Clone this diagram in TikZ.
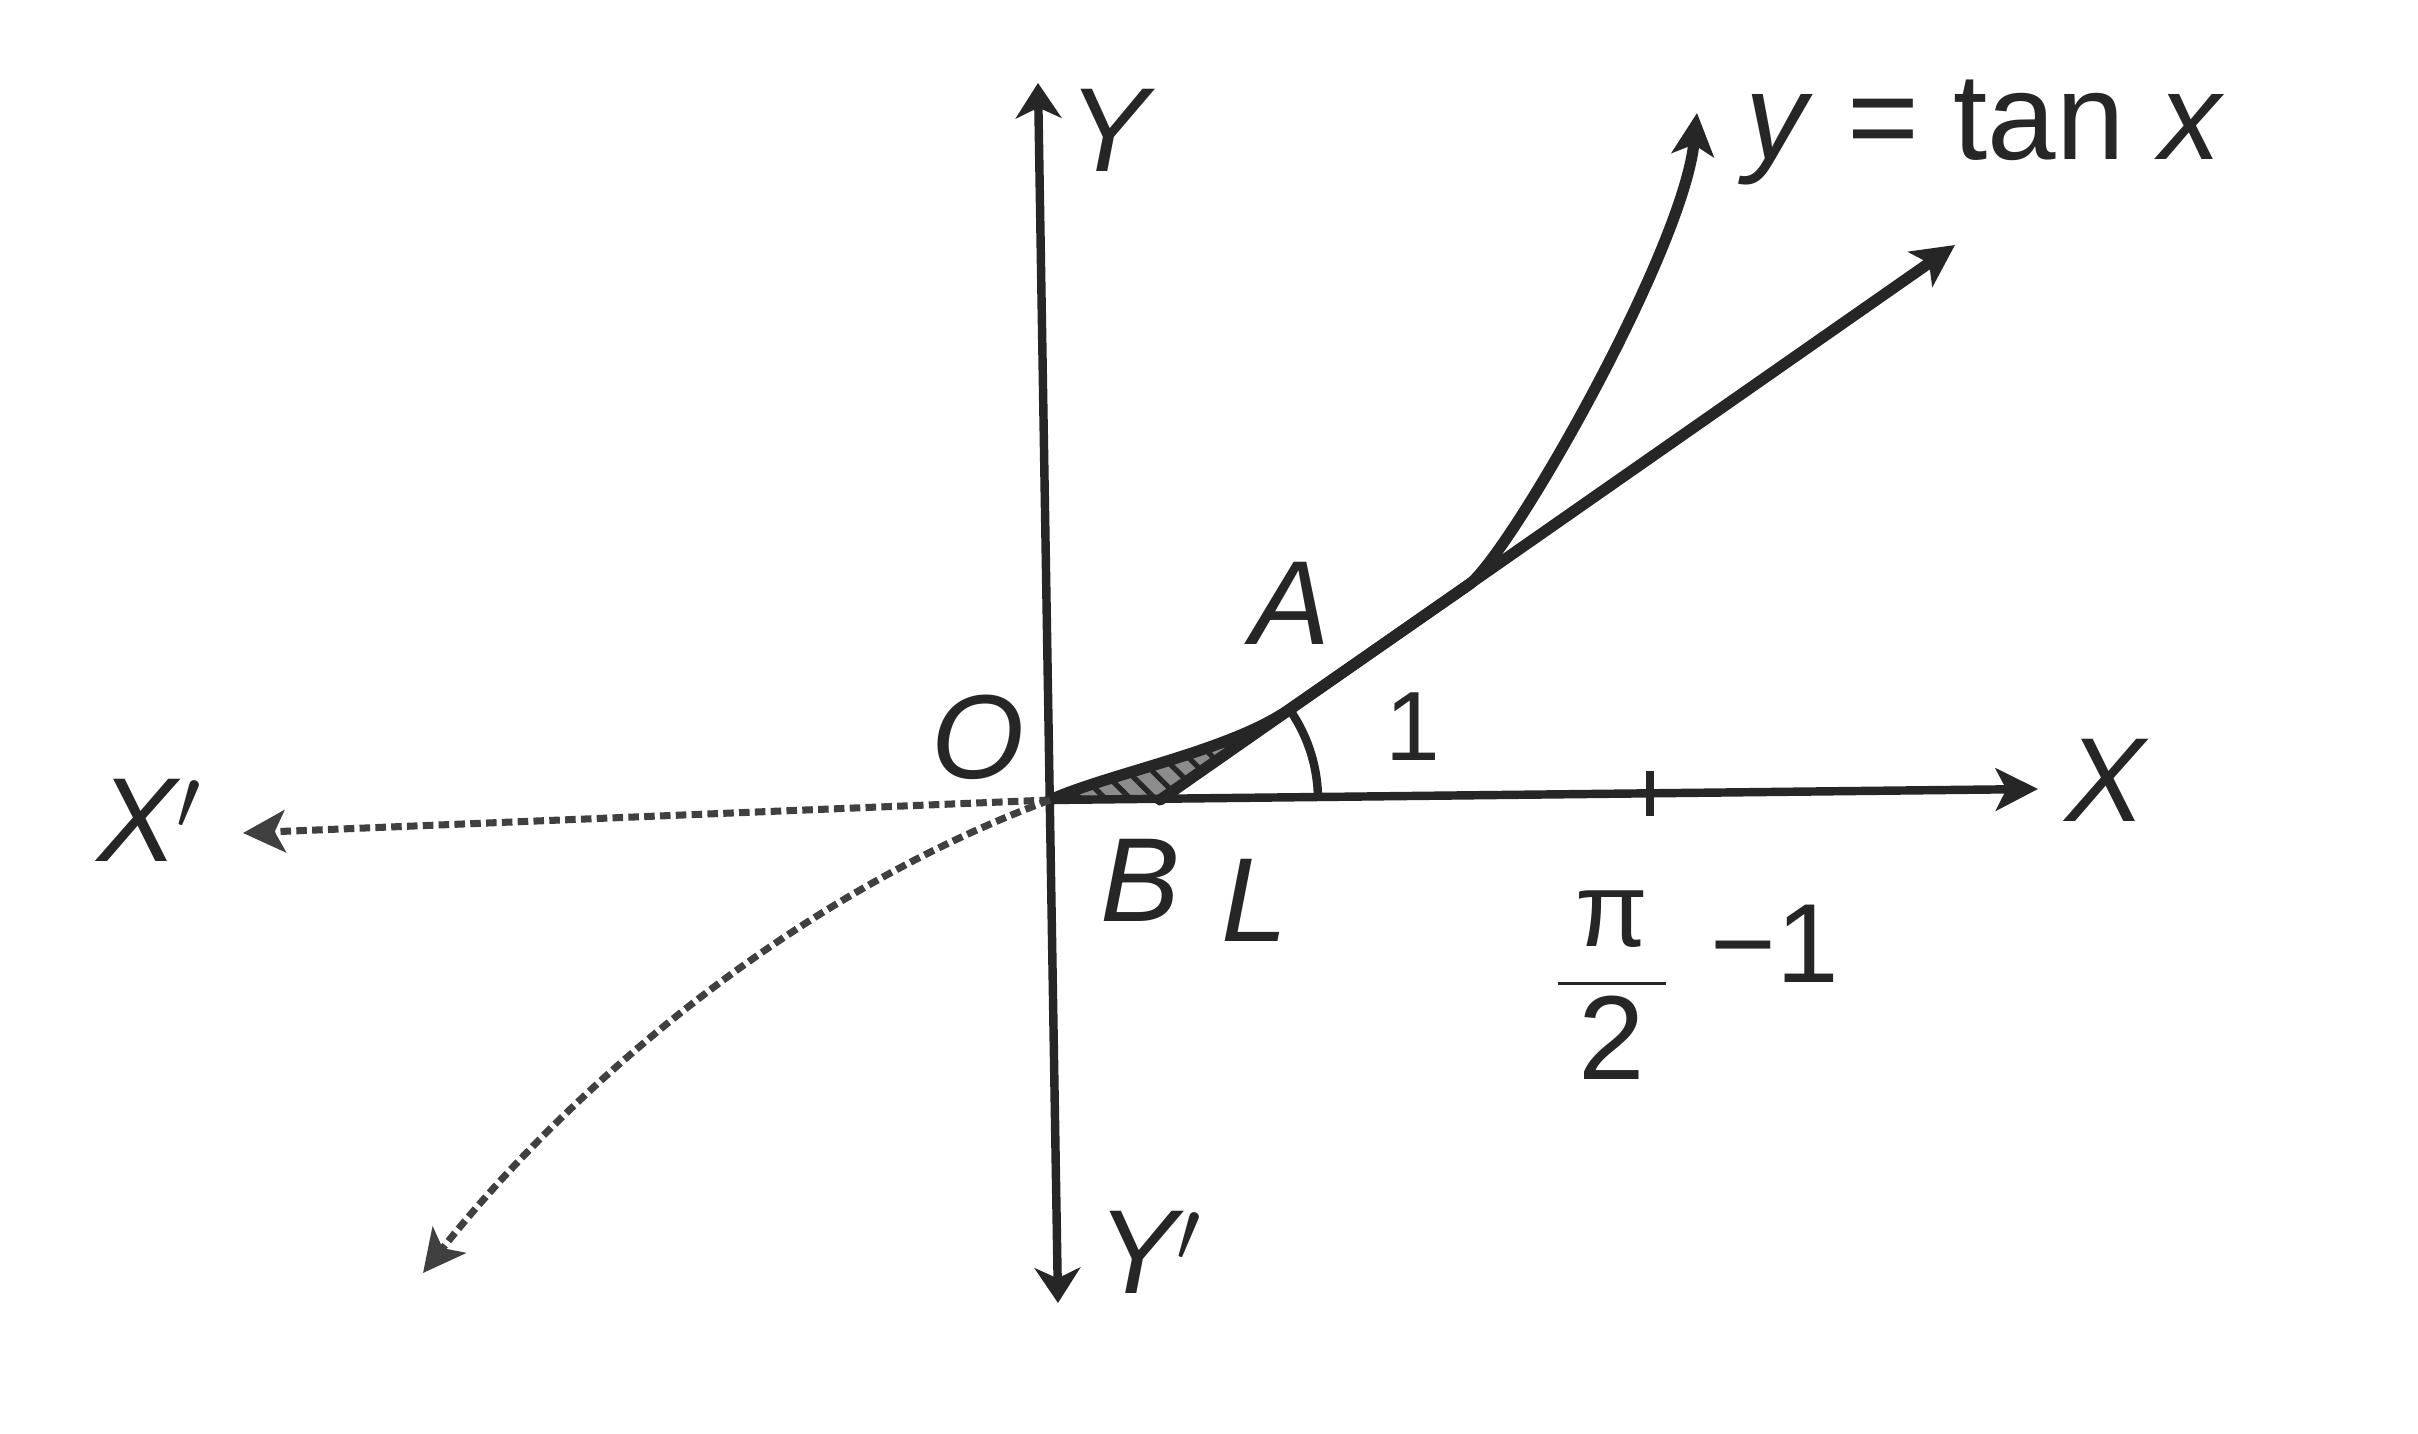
\documentclass[tikz,border=0pt]{standalone}
\usepackage{fontspec}
\setmainfont{Liberation Sans}
\usepackage{amsmath}
\usetikzlibrary{arrows.meta,patterns.meta}
\begin{document}
\begin{tikzpicture}[x=0.01cm,y=-0.01cm,
  ink/.style={draw=black!85, line width=3.2pt, line cap=round},
  axisline/.style={draw=black!85, line width=2.4pt},
  faint/.style={draw=black!75, line width=2pt, dash pattern=on 3pt off 1.5pt},
  tip/.style={-{Stealth[length=12pt,width=12pt,inset=3pt]}},
  bothtips/.style={{Stealth[length=10pt,width=13pt,inset=3pt]}-{Stealth[length=10pt,width=13pt,inset=3pt]}},
  lab/.style={font=\fontsize{34}{40}\selectfont\itshape, text=black!85, inner sep=0pt},
  uplab/.style={font=\fontsize{34}{40}\selectfont, text=black!85, inner sep=0pt},
]
\useasboundingbox[fill=white] (0,0) rectangle (2418,1434);
% key points
\coordinate (O) at (1050,800);
\coordinate (Ytop) at (1038,83);
\coordinate (Ybot) at (1058,1303);
\coordinate (Xright) at (2038,789);
\coordinate (Xleft) at (243,833);
\coordinate (B) at (1160,800);
\coordinate (P) at (1290,709);
\coordinate (A) at (1470,584);
\coordinate (Ttip) at (1955,245);
\coordinate (Ctip) at (1697,113);
\coordinate (Lend) at (423,1273);
\coordinate (TickT) at (1650,771);
\coordinate (TickB) at (1650,816);
% shaded region
\fill[black!45] (O) .. controls (1110,773) and (1230,751) .. (P) -- (B) -- cycle;
\fill[pattern={Lines[angle=-45,distance=5pt,line width=1.5pt]}, pattern color=black!85]
  (O) .. controls (1110,773) and (1230,751) .. (P) -- (B) -- cycle;
% axes
\draw[axisline, tip] (O) -- (Xright);
\draw[faint, tip] (O) -- (Xleft);
\draw[axisline, bothtips] (Ybot) -- (Ytop);
\draw[axisline] (TickT) -- (TickB);
% tangent line
\draw[ink, tip] (B) -- (Ttip);
% curve y = tan x
\draw[ink, tip] (O) .. controls (1110,773) and (1230,751) .. (P) -- (A)
  .. controls (1515,546) and (1683,250) .. (Ctip);
\draw[faint, tip] (O) .. controls (780,900) and (560,1100) .. (Lend);
% angle arc
\draw[axisline] ([shift={(158,0)}]B) arc[start angle=0, end angle=-35, radius=158];
% labels
\node[lab] (lY) at (1108,130) {Y};
\node[lab] (lYp) at (1150,1252) {Y$'$};
\node[lab] (lXp) at (150,820) {X$'$};
\node[lab] (lX) at (2105,780) {X};
\node[lab] (lO) at (978,737) {O};
\node[lab] (lA) at (1290,603) {A};
\node[lab] (lB) at (1140,880) {B};
\node[lab] (lL) at (1255,900) {L};
\node[uplab, font=\fontsize{28}{32}\selectfont] (l1) at (1413,727) {1};
\node[uplab, anchor=base west, font=\fontsize{35}{40}\selectfont] (lcurve) at (1745,160) {\textit{y} = tan \textit{x}};
\node[uplab, font=\fontsize{34}{40}\selectfont] (lfrac) at (1612,985)
  {$\dfrac{\mbox{\fontsize{30}{34}\selectfont\,π\,}}{\mbox{\,2\,}}$};
\node[uplab, font=\fontsize{32}{38}\selectfont] (lminus) at (1775,944) {−1};
\end{tikzpicture}
\end{document}
